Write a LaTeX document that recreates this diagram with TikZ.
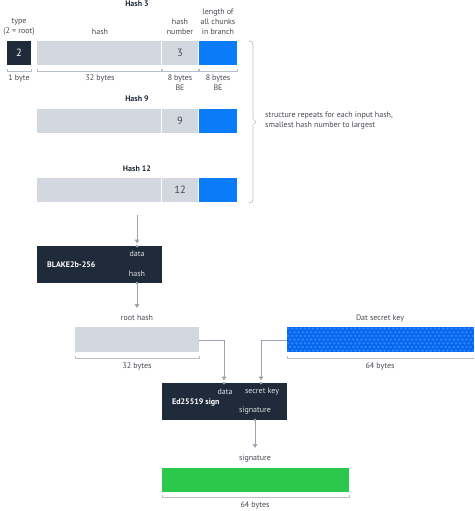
\documentclass[tikz,border=0pt]{standalone}
\usepackage{fontspec}
\setmainfont{PT Sans}
\usetikzlibrary{arrows.meta}
\definecolor{navy}{HTML}{1F2B3B}
\definecolor{cgray}{HTML}{D3D8E0}
\definecolor{cblue}{HTML}{0A7CFA}
\definecolor{kblue}{HTML}{0466EA}
\definecolor{kdot}{HTML}{2A80FF}
\definecolor{cgreen}{HTML}{2BC84B}
\definecolor{txt}{HTML}{454A52}
\definecolor{lgray}{HTML}{9AA3AF}
\definecolor{bgray}{HTML}{B8BEC6}
\begin{document}
\begin{tikzpicture}[x=1pt,y=-1pt,
  lbl/.style={font=\fontsize{8}{10}\selectfont, text=txt, align=center, inner sep=0},
  hlbl/.style={font=\fontsize{8}{10}\selectfont\bfseries, text=navy, inner sep=0},
  wlbl/.style={font=\fontsize{8}{10}\selectfont, text=white!85!navy, inner sep=0},
  wbold/.style={font=\fontsize{8}{10}\selectfont\bfseries, text=white, inner sep=0},
  digit/.style={font=\fontsize{10.5}{12}\selectfont, text=txt, inner sep=0},
  cell/.style={inner sep=0, outer sep=0, anchor=north west},
  conn/.style={draw=lgray, line width=0.9pt},
  tip/.style={-{Triangle[width=4.5pt,length=4pt]}},
  brk/.style={draw=bgray, line width=0.5pt},
  dotc/.style={fill=lgray, draw=none}
]
\useasboundingbox (0,0) rectangle (474,511);

% ---------- Hash 3 header ----------
\node[hlbl] (t3) at (137,4) {Hash 3};
\node[lbl] (ltype) at (19,27) {type\\(2 = root)};
\node[lbl] (lhash) at (100,32) {hash};
\node[lbl] (lnum) at (180,27) {hash\\number};
\node[lbl] (llen) at (218,22) {length of\\all chunks\\in branch};

% ---------- rows ----------
\node[cell, fill=navy, minimum width=24, minimum height=24] (type) at (7,41) {};
\node[font=\fontsize{10.5}{12}\selectfont, text=white, inner sep=0] (two) at (type.center) {2};

\foreach \y/\n/\t in {41/3/3, 109/9/9, 178/12/12}{
  \node[cell, fill=cgray, minimum width=124, minimum height=24] (hash\n) at (37,\y) {};
  \node[cell, fill=cgray, minimum width=36, minimum height=24] (num\n) at (162,\y) {};
  \node[cell, fill=cblue, minimum width=38, minimum height=24] (len\n) at (199,\y) {};
  \node[digit] (d\n) at (num\n.center) {\t};
}
\node[hlbl] (t9) at (137,99) {Hash 9};
\node[hlbl] (t12) at (137,169) {Hash 12};

% brackets under Hash 3
\foreach \a/\b/\nm in {7/31/bt, 37/161/bh, 162/198/bn, 199/237/bl}{
  \draw[brk] (\a,69) -- (\a,71) -- (\b,71) -- (\b,69);
}
\node[lbl] (s1) at (19,78) {1 byte};
\node[lbl] (s32) at (100,78) {32 bytes};
\node[lbl] (s8a) at (180,83) {8 bytes\\BE};
\node[lbl] (s8b) at (218,83) {8 bytes\\BE};

% brace
\draw[brk, line width=0.7pt] (249,41) .. controls (252,41) and (253,42) .. (253,45) -- (253,119) -- (256,122) -- (253,125) -- (253,199) .. controls (253,202) and (252,203) .. (249,203);
\node[lbl, align=left, anchor=west] (rep) at (265,120.5) {structure repeats for each input hash,\\smallest hash number to largest};

% ---------- BLAKE ----------
\coordinate (a1s) at (137,215);
\node[cell, fill=navy, minimum width=125, minimum height=37] (blake) at (37,246) {};
\node[wbold, anchor=west] (bl) at (47,265) {BLAKE2b-256};
\node[wlbl] (bdata) at (137,254) {data};
\node[wlbl] (bhash) at (137,274) {hash};
\draw[conn, tip] (a1s) -- (137,243.5);
\fill[dotc] (137,246) circle (1.5);

\coordinate (a2e) at (137,308);
\fill[dotc] (137,283) circle (1.5);
\draw[conn, tip] (137,283) -- (a2e);

% ---------- root hash ----------
\node[lbl] (lroot) at (137,318) {root hash};
\node[cell, fill=cgray, minimum width=124, minimum height=25] (root) at (75,327) {};
\draw[brk] (75,356) -- (75,358) -- (199,358) -- (199,356);
\node[lbl] (s32b) at (137,366) {32 bytes};

% ---------- secret key ----------
\node[lbl] (lkey) at (380,318) {Dat secret key};
\node[cell, fill=kblue, minimum width=187, minimum height=25] (key) at (287,327) {};
\begin{scope}
  \clip (287,327) rectangle (474,352);
  \foreach \r in {0,...,6}{
    \pgfmathsetmacro{\off}{mod(\r,2)*2.1}
    \foreach \c in {0,...,45}{
      \fill[kdot] ({288+\off+\c*4.2},{328.5+\r*3.7}) circle (1.5);
    }
  }
\end{scope}
\draw[brk] (287,356) -- (287,358) -- (474,358);
\node[lbl] (s64a) at (380,366) {64 bytes};

% ---------- Ed25519 ----------
\node[cell, fill=navy, minimum width=125, minimum height=37] (ed) at (162,383) {};
\node[wbold, anchor=west] (edl) at (172,402) {Ed25519 sign};
\node[wlbl] (edata) at (225,392) {data};
\node[wlbl] (ekey) at (262,392) {secret key};
\node[wlbl] (esig) at (255,411) {signature};
\draw[conn, tip] (root.east |- 0,340) -| (224,380.5);
\fill[dotc] (224,383) circle (1.5);
\draw[conn, tip] (key.west |- 0,340) -| (261,380.5);
\fill[dotc] (261,383) circle (1.5);

\coordinate (a3e) at (255,448);
\fill[dotc] (255,420) circle (1.5);
\draw[conn, tip] (255,420) -- (a3e);

% ---------- signature ----------
\node[lbl] (lsig) at (255,459) {signature};
\node[cell, fill=cgreen, minimum width=187, minimum height=24] (sig) at (162,468) {};
\draw[brk] (162,495) -- (162,497) -- (349,497) -- (349,495);
\node[lbl] (s64b) at (255,505) {64 bytes};
\end{tikzpicture}
\end{document}
